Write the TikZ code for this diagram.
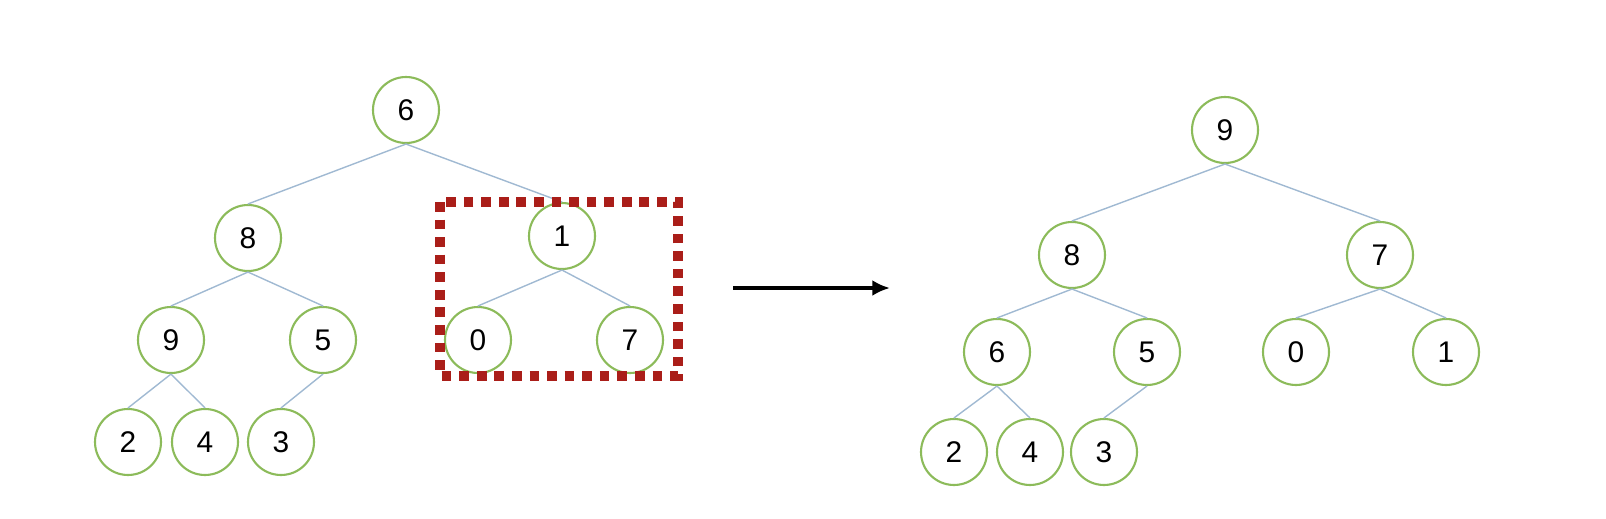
\documentclass[tikz,border=0pt]{standalone}
\usepackage{fontspec}
\setmainfont{Liberation Sans}
\usetikzlibrary{arrows.meta}
\definecolor{ndgreen}{RGB}{140,187,90}
\definecolor{edblue}{RGB}{160,185,210}
\definecolor{boxred}{RGB}{170,30,25}
\begin{document}
\begin{tikzpicture}[x=0.02cm,y=-0.02cm,
  nd/.style={circle,draw=ndgreen,line width=1.2pt,fill=white,minimum size=1.32cm,inner sep=0pt,font=\fontsize{17}{19}\selectfont},
  ed/.style={draw=edblue,line width=0.8pt}]
\useasboundingbox (0,0) rectangle (1606,518);
% left tree
\node[nd] (a6) at (406,110) {6};
\node[nd] (a8) at (248,238) {8};
\node[nd] (a1) at (562,236) {1};
\node[nd] (a9) at (171,340) {9};
\node[nd] (a5) at (323,340) {5};
\node[nd] (a0) at (478,340) {0};
\node[nd] (a7) at (630,340) {7};
\node[nd] (a2) at (128,442) {2};
\node[nd] (a4) at (205,442) {4};
\node[nd] (a3) at (281,442) {3};
\foreach \p/\c in {a6/a8,a6/a1,a8/a9,a8/a5,a1/a0,a1/a7,a9/a2,a9/a4,a5/a3}
  \draw[ed] (\p.south) -- (\c.north);
\draw[draw=boxred,line width=5.5pt,dash pattern=on 5.5pt off 4.5pt] (440,202) rectangle (678,376);
% arrow
\coordinate (s) at (733,288); \coordinate (t) at (890,288);
\draw[line width=2.2pt,-{Latex[length=10pt,width=9pt]}] (s) -- (t);
% right tree
\node[nd] (b9) at (1225,130) {9};
\node[nd] (b8) at (1072,255) {8};
\node[nd] (b7) at (1380,255) {7};
\node[nd] (b6) at (997,352) {6};
\node[nd] (b5) at (1147,352) {5};
\node[nd] (b0) at (1296,352) {0};
\node[nd] (b1) at (1446,352) {1};
\node[nd] (b2) at (954,452) {2};
\node[nd] (b4) at (1030,452) {4};
\node[nd] (b3) at (1104,452) {3};
\foreach \p/\c in {b9/b8,b9/b7,b8/b6,b8/b5,b7/b0,b7/b1,b6/b2,b6/b4,b5/b3}
  \draw[ed] (\p.south) -- (\c.north);
\end{tikzpicture}
\end{document}
